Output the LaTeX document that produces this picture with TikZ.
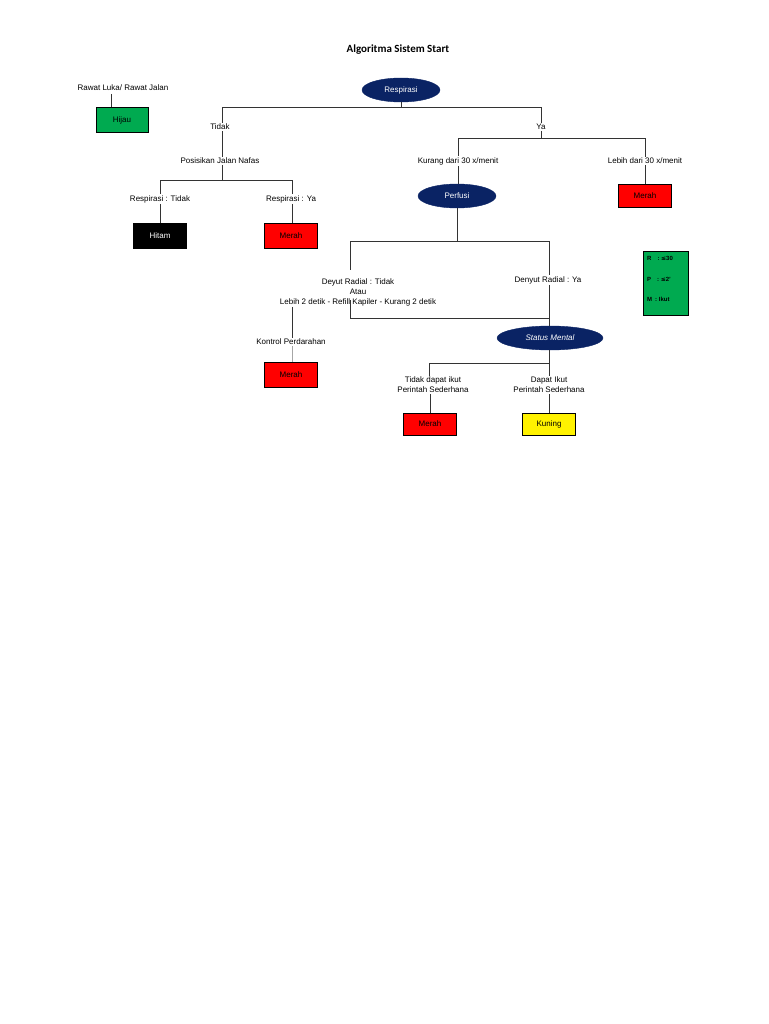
\documentclass[tikz,border=0pt]{standalone}
\usepackage{fontspec}
\setmainfont{Liberation Sans}
\newfontfamily\titlefont{Carlito}
\newfontfamily\symfont{DejaVu Sans}
\usetikzlibrary{shapes.geometric}
\definecolor{navy}{RGB}{10,35,100}
\definecolor{hgreen}{RGB}{0,170,80}
\begin{document}
\begin{tikzpicture}[x=1pt,y=-1pt,
  lbl/.style={font=\fontsize{8}{10}\selectfont,inner sep=1pt,align=center},
  oval/.style={ellipse,fill=navy,draw=navy,text=white,font=\fontsize{8}{10}\selectfont,minimum height=24pt,inner sep=0pt},
  cbox/.style={draw=black,line width=0.7pt,minimum width=53pt,minimum height=25pt,font=\fontsize{8}{10}\selectfont,inner sep=0pt},
  ln/.style={line width=0.8pt,draw=black!80}]
\useasboundingbox (0,0) rectangle (768,1024);
\node[font=\titlefont\bfseries\fontsize{11}{13}\selectfont] (title) at (398,50) {Algoritma Sistem Start};
% left
\node[lbl] (rawat) at (123,88) {Rawat Luka/ Rawat Jalan};
\node[cbox,fill=hgreen,minimum width=52pt] (hijau) at (122,120) {Hijau};
\draw[ln] (111,94) -- (hijau.north -| 111,0);
% respirasi
\node[oval,minimum width=78pt] (resp) at (401,90) {Respirasi};
\coordinate (r1) at (401,107);
\node[lbl] (tidak) at (220,127) {Tidak};
\node[lbl] (ya) at (541,127) {Ya};
\draw[ln] (resp.south) -- (r1) -- (222,107) -- (tidak.north -| 222,0);
\draw[ln] (r1) -- (541,107) -- (ya.north);
% tidak branch
\node[lbl] (pos) at (220,161) {Posisikan Jalan Nafas};
\draw[ln] (tidak.south -| 222,0) -- (pos.north -| 222,0);
\node[lbl] (rt) at (160,199) {Respirasi : Tidak};
\node[lbl] (ry) at (291,199) {Respirasi : Ya};
\draw[ln] (pos.south -| 222,0) -- (222,180) -- (160,180) -- (rt.north -| 160,0);
\draw[ln] (222,180) -- (292,180) -- (ry.north -| 292,0);
\node[cbox,fill=black,text=white] (hitam) at (160,236) {Hitam};
\node[cbox,fill=red] (merah1) at (291,236) {Merah};
\draw[ln] (rt.south -| 160,0) -- (hitam.north -| 160,0);
\draw[ln] (ry.south -| 292,0) -- (merah1.north -| 292,0);
% ya branch
\node[lbl] (kur) at (458,161) {Kurang dari 30 x/menit};
\node[lbl] (leb) at (645,161) {Lebih dari 30 x/menit};
\draw[ln] (ya.south) -- (541,138) -- (458,138) -- (kur.north -| 458,0);
\draw[ln] (541,138) -- (645,138) -- (leb.north -| 645,0);
\node[cbox,fill=red,minimum height=23pt] (merah2) at (645,196) {Merah};
\draw[ln] (leb.south -| 645,0) -- (merah2.north -| 645,0);
\node[oval,minimum width=78pt] (perf) at (457,196) {Perfusi};
\draw[ln] (kur.south -| 458,0) -- (perf.north -| 458,0);
% perfusi branch
\coordinate (p1) at (457,241);
\node[lbl,fill=white,inner sep=1pt] (deyut) at (358,292) {Deyut Radial : Tidak\\Atau\\Lebih 2 detik - Refill Kapiler - Kurang 2 detik};
\node[lbl,fill=white] (deny) at (548,280) {Denyut Radial : Ya};
\coordinate (d1) at (549,318);
\draw[ln] (perf.south) -- (p1) -- (350,241) -- (350,270);
\draw[ln] (350,300) -- (350,318) -- (d1);
\draw[ln] (p1) -- (549,241) -- (deny.north -| 549,0);
\draw[ln] (deny.south -| 549,0) -- (d1);
\node[oval,minimum width=106pt,font=\itshape\fontsize{8}{10}\selectfont] (sm) at (550,338) {Status Mental};
\draw[ln] (d1) -- (sm.north -| 549,0);
% left sub
\node[lbl] (kon) at (291,342) {Kontrol Perdarahan};
\draw[ln] (deyut.south -| 292,0) -- (kon.north -| 292,0);
\node[cbox,fill=red] (merah3) at (291,375) {Merah};
\draw[ln,draw=black!35] (kon.south -| 292,0) -- (merah3.north -| 292,0);
% status mental
\node[lbl] (tdi) at (433,385) {Tidak dapat ikut\\Perintah Sederhana};
\node[lbl] (di) at (549,385) {Dapat Ikut\\Perintah Sederhana};
\draw[ln] (sm.south -| 549,0) -- (549,363) -- (429,363) -- (tdi.north -| 429,0);
\draw[ln] (549,363) -- (di.north -| 549,0);
\node[cbox,fill=red,minimum height=22pt] (merah4) at (430,424) {Merah};
\node[cbox,fill=yellow,minimum height=22pt] (kuning) at (549,424) {Kuning};
\draw[ln] (tdi.south -| 430,0) -- (merah4.north -| 430,0);
\draw[ln] (di.south -| 549,0) -- (kuning.north -| 549,0);
% legend
\node[draw=black,line width=0.7pt,fill=hgreen,minimum width=45pt,minimum height=64pt,inner sep=0pt] (leg) at (665.5,283) {};
\node[font=\bfseries\fontsize{6}{7}\selectfont,anchor=west,inner sep=0pt] (lr) at (647,258) {R\hspace{6pt}: {\symfont ≤}30};
\node[font=\bfseries\fontsize{6}{7}\selectfont,anchor=west,inner sep=0pt] (lp) at (647,279) {P\hspace{6pt}: {\symfont ≤}2'};
\node[font=\bfseries\fontsize{6}{7}\selectfont,anchor=west,inner sep=0pt] (lm) at (647,299) {M\hspace{3pt}: Ikut};
\end{tikzpicture}
\end{document}
